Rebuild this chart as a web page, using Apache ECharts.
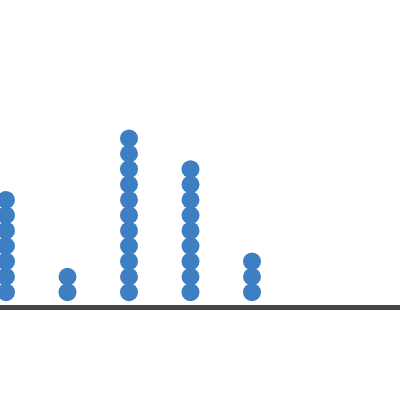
<!DOCTYPE html>
<html>
<head>
<meta charset="utf-8">
<script src="https://cdn.jsdelivr.net/npm/echarts@6/dist/echarts.min.js"></script>
<style>html,body{margin:0;padding:0;background:#fff}#c{width:400px;height:400px}</style>
</head>
<body>
<div id="c"></div>
<script>
// Column positions (bins) and the number of stacked dots in each
const columns = [0, 1, 2, 3, 4, 5, 6];
const counts = [7, 2, 11, 9, 3, 0, 0];

const points = [];
columns.forEach((c, i) => {
  for (let k = 1; k <= counts[i]; k++) points.push([c, k]);
});

const chart = echarts.init(document.getElementById('c'), null, {renderer: 'canvas'});
chart.setOption({
  animation: false,
  backgroundColor: '#ffffff',
  grid: {left: 0, right: 0, top: 0, bottom: 92.5, containLabel: false},
  xAxis: {
    type: 'value',
    min: -6 / 61.5,
    max: 394 / 61.5,
    axisLine: {show: true, onZero: false, lineStyle: {color: '#444444', width: 5}},
    axisTick: {show: false},
    axisLabel: {show: false},
    splitLine: {show: false}
  },
  yAxis: {
    type: 'value',
    min: 0,
    max: 20,
    show: false,
    splitLine: {show: false}
  },
  series: [{
    type: 'scatter',
    data: points,
    symbol: 'circle',
    symbolSize: 18,
    itemStyle: {color: '#3d7fc2', opacity: 1}
  }]
});
</script>
</body>
</html>
